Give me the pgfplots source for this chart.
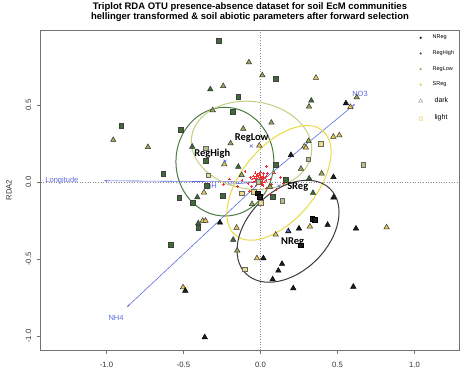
\documentclass[border=0pt]{standalone}
\usepackage{pgfplots}
\pgfplotsset{compat=1.18}
\usetikzlibrary{arrows.meta}
\usepackage{fontspec}
\setmainfont{Liberation Sans}
\newfontfamily\carlito{Carlito}
\definecolor{cN}{HTML}{1E1E1E}
\definecolor{cH}{HTML}{3F6B37}
\definecolor{cL}{HTML}{97A955}
\definecolor{cS}{HTML}{E2CB58}
\definecolor{eH}{HTML}{4C7A44}
\definecolor{eL}{HTML}{C3CF80}
\definecolor{eS}{HTML}{E8DA45}
\definecolor{eN}{HTML}{3C3C3C}
\definecolor{myblue}{HTML}{5A6BE0}
\definecolor{sp}{HTML}{F03030}
\begin{document}
\begin{tikzpicture}
\path[use as bounding box] (-40.7pt,-27pt) rectangle (433.3pt,350pt);
\begin{axis}[
  at={(0,0)}, anchor=south west,
  scale only axis, width=418.6pt, height=320pt,
  xmin=-1.427, xmax=1.291, ymin=-1.091, ymax=0.987,
  axis line style={draw=black!55, line width=0.6pt},
  xtick={-1,-0.5,0,0.5,1}, ytick={-1,-0.5,0,0.5},
  tick align=outside, tick pos=left, major tick length=4pt,
  tick style={black!55, line width=0.6pt},
  /pgf/number format/.cd, fixed, fixed zerofill, precision=1, assume math mode=true,
  /pgfplots/.cd,
  tick label style={font=\fontsize{7.7}{9}\selectfont, text=black!80},
  xticklabel style={yshift=-5pt},
  yticklabel style={rotate=90, anchor=south, yshift=2pt},
  legend style={at={(axis cs:1.026,0.968)}, anchor=north west, draw=none, fill=none,
    font=\fontsize{5.5}{6}\selectfont, row sep=6.3pt, column sep=8pt, inner sep=0pt},
  legend cell align=left,
]
% zero lines
\addplot[forget plot, black!45, dotted, line width=0.6pt] coordinates {(-1.427,0) (1.291,0)};
\addplot[forget plot, black!45, dotted, line width=0.6pt] coordinates {(0,-1.091) (0,0.987)};

% species scores (red crosses near origin)
\addplot[forget plot, only marks, mark=+, mark size=1.3pt, draw=sp, line width=0.4pt] coordinates {
(-0.010,0.020) (0.000,0.030) (-0.020,0.010) (0.010,0.005) (-0.030,0.035) (0.015,0.040)
(-0.005,0.045) (0.012,0.018) (-0.035,0.008) (0.025,0.000) (-0.015,-0.008) (0.005,-0.012)
(-0.040,0.025) (0.030,0.028) (-0.022,0.050) (0.020,0.055) (-0.045,0.040) (0.035,0.010)
(-0.050,0.000) (0.040,0.040) (-0.028,-0.018) (0.015,-0.022) (-0.055,0.020) (0.045,0.055)
(-0.035,0.060) (0.000,0.065) (-0.065,0.030) (0.060,0.020) (-0.080,-0.010) (0.070,-0.015)
(-0.060,-0.030) (0.035,-0.040) (-0.005,0.005) (0.008,0.022) (-0.018,0.035) (0.012,-0.002)
(-0.002,0.012) (-0.025,0.022) (0.020,0.030) (-0.010,0.055)
(-0.120,0.010) (0.090,0.060) (-0.150,-0.030) (0.100,-0.050) (-0.200,0.020) (0.130,0.030)
(-0.240,-0.015) (0.040,0.100) (-0.100,0.070) (0.060,-0.080) (-0.070,-0.060) (0.150,-0.010)
};

% RegHigh squares
\addplot[forget plot, only marks, mark=square*, mark size=2.3pt, draw=black!75, fill=cH, line width=0.5pt] coordinates {
(-0.269,0.916) (0.101,0.669) (-0.144,0.554) (-0.181,0.458) (-0.904,0.364) (-0.516,0.338)
(-0.356,0.136) (-0.631,0.052) (-0.347,-0.026) (-0.245,-0.089) (-0.527,-0.102) (-0.440,-0.133)
(-0.404,-0.297) (-0.583,-0.409) (0.101,0.110) (0.166,0.013) (0.078,-0.095)
};
% RegHigh triangles
\addplot[forget plot, only marks, mark=triangle*, mark size=3.1pt, draw=black!80, fill=cH, line width=0.5pt] coordinates {
(-0.326,0.602) (0.330,0.528) (-0.443,0.229) (-0.144,0.099) (0.316,0.023) (0.341,-0.071)
(-0.410,-0.099) (-0.404,-0.268) (-0.177,-0.375)
};
% RegLow triangles
\addplot[forget plot, only marks, mark=triangle*, mark size=3.1pt, draw=black!80, fill=cL, line width=0.5pt] coordinates {
(-0.242,0.623) (-0.310,0.466) (-0.956,0.273) (-0.731,0.227) (-0.194,0.251) (-0.075,0.777)
(0.012,0.693) (0.315,0.490) (0.625,0.550) (0.071,0.385) (-0.112,0.346) (0.312,0.266)
(0.263,0.086) (-0.122,0.045) (0.397,0.055) (-0.151,-0.445) (-0.055,-0.143) (0.062,-0.031)
};
% RegLow squares
\addplot[forget plot, only marks, mark=square*, mark size=2.3pt, draw=black!60, fill=cL!70, line width=0.5pt] coordinates {
(-0.354,0.219) (0.310,0.147) (0.668,0.110) (0.141,-0.122) (-0.014,0.002)
};
% SReg triangles
\addplot[forget plot, only marks, mark=triangle*, mark size=3.1pt, draw=black!80, fill=cS, line width=0.5pt] coordinates {
(-0.235,0.115) (-0.367,-0.068) (0.360,0.677) (0.584,0.487) (0.473,0.294) (0.512,0.303)
(-0.008,0.236) (0.284,0.231) (0.295,0.223) (-0.375,-0.252) (-0.357,-0.252) (-0.155,-0.297)
(-0.023,-0.495) (-0.503,-0.684) (0.321,-0.289) (0.819,-0.294) (0.099,-0.342)
};
% SReg squares
\addplot[forget plot, only marks, mark=square*, mark size=2.3pt, draw=black!60, fill=cS!70, line width=0.5pt] coordinates {
(-0.339,0.044) (0.391,0.250) (-0.122,-0.073) (-0.042,-0.064) (0.001,-0.133) (-0.103,-0.567)
};
% NReg triangles
\addplot[forget plot, only marks, mark=triangle*, mark size=3.1pt, draw=black, fill=cN, line width=0.5pt] coordinates {
(0.555,0.511) (0.198,0.175) (0.474,0.032) (0.474,-0.101) (-0.263,-0.264) (-0.488,-0.706)
(-0.362,-1.008) (0.436,-0.278) (0.620,-0.302) (0.250,-0.302) (0.181,-0.320) (0.019,-0.495)
(0.140,-0.532) (0.116,-0.576) (0.079,-0.632) (0.213,-0.690) (0.603,-0.680)
};
% NReg squares
\addplot[forget plot, only marks, mark=square*, mark size=2.3pt, draw=black, fill=cN, line width=0.5pt] coordinates {
(0.336,-0.239) (0.354,-0.247) (0.263,-0.411) (-0.016,-0.073) (-0.003,-0.095)
};

% environmental arrows
\addplot[forget plot, myblue, line width=0.6pt, -{Stealth[length=3pt,width=2pt]}] coordinates {(0,0) (-1.016,0.008)};
\addplot[forget plot, myblue, line width=0.6pt, -{Stealth[length=3pt,width=2pt]}] coordinates {(0,0) (-0.218,-0.015)};
\addplot[forget plot, myblue, line width=0.6pt, -{Stealth[length=3pt,width=2pt]}] coordinates {(0,0) (0.614,0.506)};
\addplot[forget plot, myblue, line width=0.6pt, -{Stealth[length=3pt,width=2pt]}] coordinates {(0,0) (-0.867,-0.812)};

% centroids
\addplot[forget plot, only marks, mark=x, mark size=2pt, draw=myblue, line width=0.6pt] coordinates {
(-0.231,0.136) (-0.060,0.234) (0.120,-0.026) (0.179,-0.318)
};

% ellipses
\draw[eH, line width=1pt] (axis cs:-0.231,0.132) ellipse [x radius=0.318, y radius=0.353];
\draw[eL, line width=1pt, rotate around={-8:(axis cs:-0.058,0.238)}] (axis cs:-0.058,0.238) ellipse [x radius=0.393, y radius=0.284];
\draw[eS, line width=1pt, rotate around={50:(axis cs:0.120,-0.006)}] (axis cs:0.120,-0.006) ellipse [x radius=0.442, y radius=0.240];
\draw[eN, line width=1pt, rotate around={45:(axis cs:0.179,-0.320)}] (axis cs:0.179,-0.320) ellipse [x radius=0.388, y radius=0.262];

% labels
\node[text=myblue, font=\fontsize{7.5}{9}\selectfont] at (axis cs:-1.289,0.010) {Longitude};
\node[text=myblue, font=\fontsize{7.5}{9}\selectfont] at (axis cs:-0.315,-0.029) {pH};
\node[text=myblue, font=\fontsize{7.5}{9}\selectfont] at (axis cs:0.646,0.571) {NO3};
\node[text=myblue, font=\fontsize{7.5}{9}\selectfont] at (axis cs:-0.938,-0.881) {NH4};
\node[font=\carlito\bfseries\fontsize{10.5}{12}\selectfont] at (axis cs:-0.313,0.186) {RegHigh};
\node[font=\carlito\bfseries\fontsize{10.5}{12}\selectfont] at (axis cs:-0.057,0.284) {RegLow};
\node[font=\carlito\bfseries\fontsize{10.5}{12}\selectfont] at (axis cs:0.242,-0.034) {SReg};
\node[font=\carlito\bfseries\fontsize{10.5}{12}\selectfont] at (axis cs:0.209,-0.388) {NReg};

% legend
\addlegendimage{only marks, mark=*, mark size=0.9pt, draw=cN, fill=cN}
\addlegendentry{NReg}
\addlegendimage{only marks, mark=*, mark size=0.9pt, draw=cH, fill=cH}
\addlegendentry{RegHigh}
\addlegendimage{only marks, mark=*, mark size=0.9pt, draw=cL, fill=cL}
\addlegendentry{RegLow}
\addlegendimage{only marks, mark=*, mark size=0.9pt, draw=cS, fill=cS}
\addlegendentry{SReg}
\addlegendimage{only marks, mark=triangle, mark size=2.3pt, draw=black!45}
\addlegendentry{\fontsize{7}{8}\selectfont\ dark}
\addlegendimage{only marks, mark=square*, mark size=1.9pt, draw=cS!45, fill=cS!20}
\addlegendentry{\fontsize{7}{8}\selectfont\ light}
\end{axis}
\node[anchor=base, font=\bfseries\fontsize{9.5}{11}\selectfont] at (209.3pt,340.8pt) {Triplot RDA OTU presence-absence dataset for soil EcM communities};
\node[anchor=base, font=\bfseries\fontsize{9.5}{11}\selectfont] at (209.3pt,330.5pt) {hellinger transformed \& soil abiotic parameters after forward selection};
\node[rotate=90, font=\fontsize{7.7}{9}\selectfont, text=black!80] at (-31.7pt,160pt) {RDA2};
\end{tikzpicture}
\end{document}
